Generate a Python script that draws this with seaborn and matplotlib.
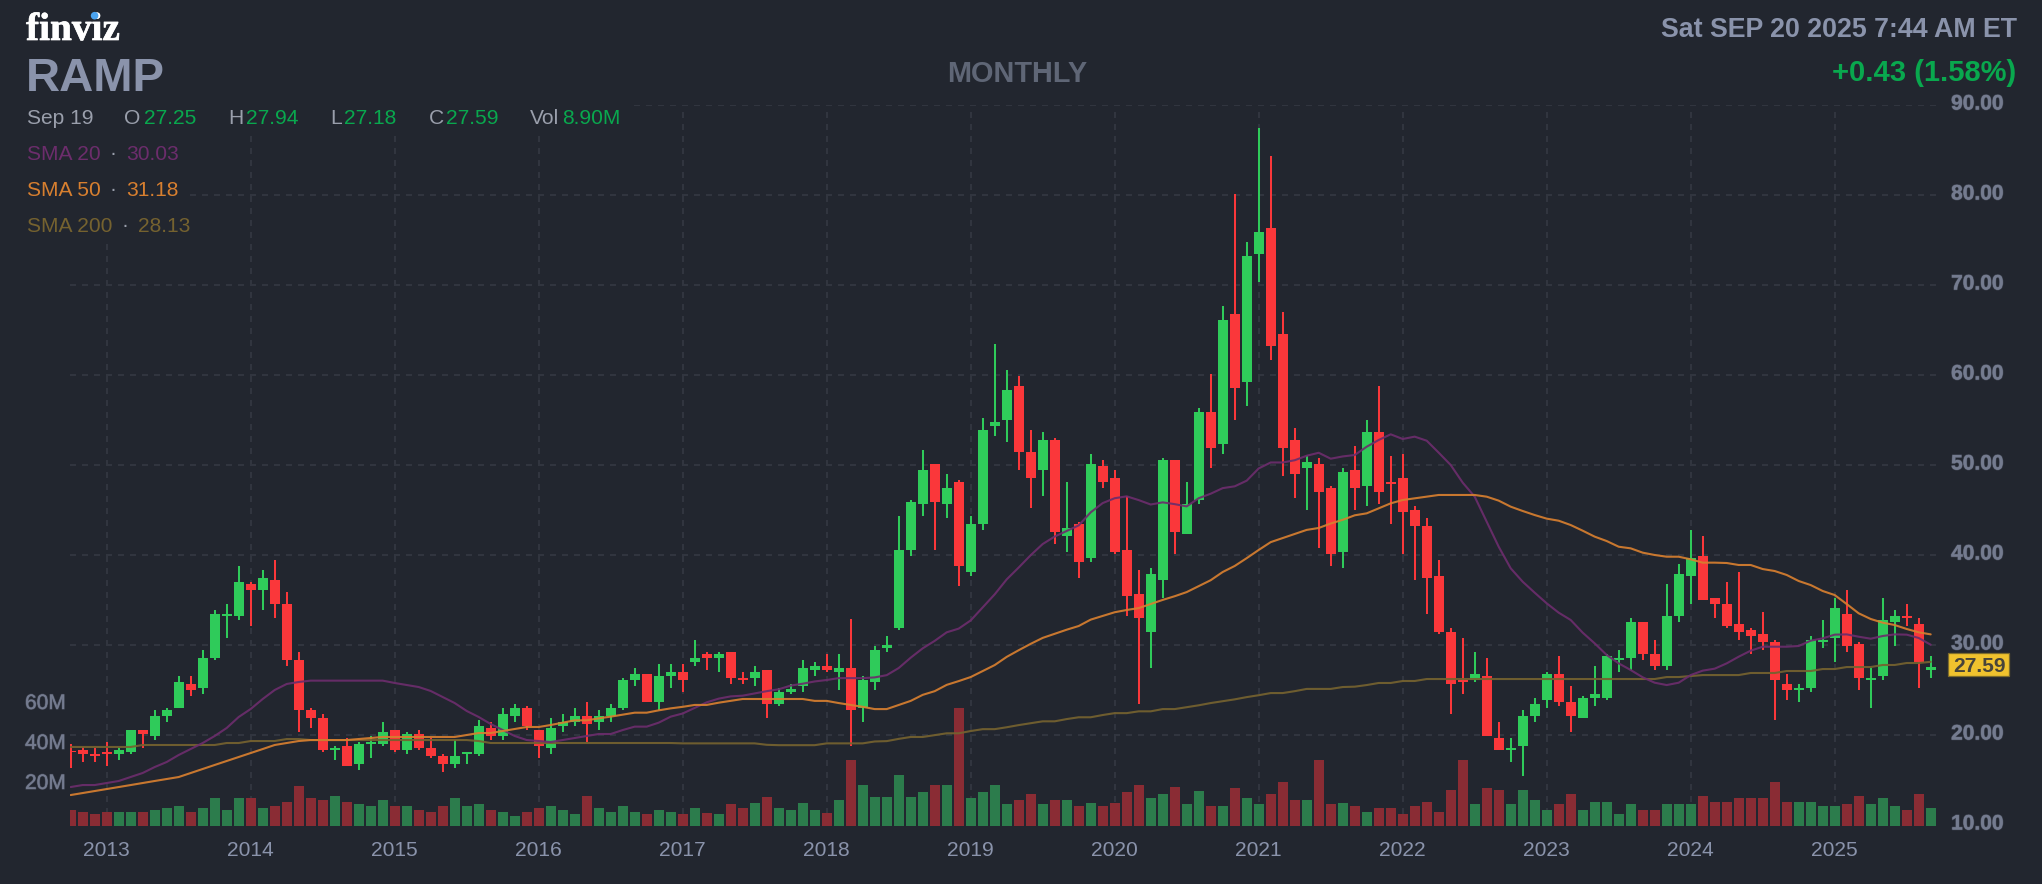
import matplotlib
matplotlib.use("Agg")
import matplotlib.pyplot as plt
import matplotlib.patches as mpatches
import matplotlib.patheffects as pe
from matplotlib.transforms import ScaledTranslation
import numpy as np
import pandas as pd
import seaborn as sns

# monthly candles, Oct 2012 to Sep 2025
opens = [
    18.26, 18.33, 17.85, 18.11, 17.89, 18.11, 20.55, 19.89, 22.11, 23.0,
    25.67, 25.22, 28.55, 33.22, 33.22, 36.78, 36.11, 37.22, 34.55, 28.33,
    22.78, 21.89, 18.33, 18.78, 16.78, 19.0, 19.0, 20.55, 18.33, 20.11,
    18.55, 17.67, 16.78, 17.89, 17.89, 20.78, 19.89, 22.11, 23.0, 20.55,
    18.55, 21.0, 21.44, 22.11, 21.44, 22.11, 23.0, 26.11, 26.78, 23.67,
    26.55, 26.98, 28.14, 28.97, 28.55, 29.22, 26.32, 26.32, 27.23, 23.42,
    24.79, 25.45, 27.23, 27.64, 26.98, 27.44, 22.97, 25.86, 29.67, 31.87,
    40.56, 45.69, 50.12, 45.69, 48.09, 38.11, 43.45, 54.34, 55.0, 58.77,
    51.44, 49.46, 52.77, 42.09, 43.45, 39.65, 49.87, 48.55, 40.56, 35.67,
    31.45, 37.2, 50.53, 42.34, 46.1, 55.87, 52.33, 66.78, 59.22, 73.44,
    76.33, 64.56, 52.78, 49.67, 50.11, 47.43, 40.31, 49.46, 47.67, 53.67,
    48.11, 48.55, 45.0, 43.22, 37.67, 31.44, 26.11, 26.11, 26.55, 19.67,
    18.33, 18.78, 22.11, 23.89, 26.78, 23.67, 21.89, 24.11, 24.11, 28.33,
    28.55, 32.55, 29.0, 27.67, 33.22, 37.67, 39.89, 35.22, 34.55, 32.33,
    31.67, 31.22, 30.33, 25.67, 25.0, 25.22, 30.33, 30.78, 33.44, 30.11,
    26.11, 26.55, 32.55, 33.22, 32.33, 27.25,
]
closes = [
    18.11, 17.89, 17.67, 17.89, 18.33, 20.55, 20.11, 22.11, 22.78, 25.89,
    25.0, 28.55, 33.44, 33.44, 37.0, 36.11, 37.44, 34.55, 28.33, 22.78,
    21.89, 18.33, 18.55, 16.55, 19.0, 19.22, 20.33, 18.33, 20.11, 18.55,
    17.67, 16.78, 17.67, 18.11, 21.0, 19.89, 22.33, 23.0, 21.0, 18.78,
    20.78, 21.44, 22.11, 21.22, 22.11, 23.0, 26.11, 26.78, 23.67, 26.55,
    27.0, 26.15, 28.55, 28.55, 28.97, 26.32, 26.15, 26.98, 23.42, 24.79,
    25.16, 27.44, 27.64, 27.23, 27.44, 22.76, 26.11, 29.42, 30.04, 40.56,
    45.9, 49.46, 45.9, 47.43, 38.78, 43.45, 53.88, 54.75, 58.31, 51.44,
    48.55, 52.77, 42.54, 43.0, 39.23, 50.12, 48.09, 40.31, 35.42, 32.98,
    37.87, 50.53, 42.54, 45.65, 55.87, 51.9, 66.11, 58.56, 73.22, 75.89,
    63.22, 51.89, 49.0, 50.33, 46.97, 40.1, 49.21, 47.43, 53.67, 47.0,
    47.89, 44.78, 43.22, 37.44, 31.44, 25.67, 25.89, 26.78, 19.89, 18.33,
    18.55, 22.11, 23.44, 26.78, 23.67, 22.11, 24.11, 24.55, 28.78, 28.55,
    32.55, 29.0, 27.67, 33.22, 37.89, 39.67, 35.0, 34.55, 32.11, 31.44,
    31.0, 30.33, 26.11, 25.0, 25.22, 30.55, 30.55, 34.11, 29.89, 26.33,
    26.33, 32.78, 33.22, 33.0, 28.11, 27.59,
]
highs = [
    19.0, 18.63, 18.59, 19.22, 18.59, 20.6, 20.6, 22.78, 23.0, 26.55,
    26.55, 29.44, 33.89, 34.55, 38.78, 37.0, 38.33, 39.44, 35.89, 29.22,
    23.0, 22.33, 18.78, 19.67, 19.22, 19.89, 21.44, 20.6, 20.33, 20.55,
    19.67, 17.89, 19.44, 18.11, 21.67, 21.44, 23.0, 23.44, 23.22, 20.55,
    21.89, 22.33, 23.0, 23.67, 22.78, 23.44, 26.33, 27.44, 26.78, 27.89,
    27.89, 27.85, 30.54, 29.22, 29.22, 29.22, 26.98, 27.64, 27.23, 25.2,
    25.66, 28.31, 28.1, 28.97, 28.97, 32.94, 26.53, 29.84, 31.0, 44.32,
    46.1, 51.65, 50.12, 49.0, 48.3, 44.32, 55.21, 63.45, 60.55, 59.89,
    53.88, 53.68, 53.02, 48.09, 43.66, 51.24, 50.53, 49.46, 46.56, 38.32,
    38.53, 50.78, 50.53, 48.09, 56.33, 60.09, 67.67, 80.11, 74.78, 87.44,
    84.33, 67.0, 54.11, 51.0, 50.78, 47.68, 49.66, 52.1, 55.0, 58.78,
    51.0, 51.22, 45.44, 44.11, 39.44, 31.89, 30.78, 29.22, 28.55, 21.44,
    19.67, 22.78, 24.11, 27.0, 28.78, 25.44, 24.33, 27.67, 29.0, 29.44,
    33.0, 32.55, 30.55, 36.78, 39.0, 42.78, 42.11, 35.22, 37.0, 38.11,
    31.89, 33.67, 30.55, 26.78, 25.67, 31.0, 32.78, 35.22, 36.11, 30.33,
    27.44, 35.22, 33.89, 34.55, 33.0, 28.78,
]
lows = [
    16.37, 17.0, 17.0, 16.55, 17.22, 17.89, 18.55, 19.44, 21.44, 23.0,
    24.33, 24.55, 28.33, 30.78, 32.78, 32.11, 33.89, 33.0, 27.67, 20.33,
    20.78, 18.11, 17.22, 16.55, 16.11, 17.44, 18.78, 18.11, 17.89, 18.33,
    17.44, 15.89, 16.33, 16.78, 17.67, 19.44, 19.44, 21.44, 20.55, 17.44,
    17.89, 20.33, 21.0, 19.22, 20.55, 21.44, 22.78, 25.44, 23.67, 22.78,
    25.22, 24.79, 27.64, 27.23, 26.98, 25.7, 25.7, 25.49, 21.93, 23.21,
    24.54, 24.79, 26.53, 26.98, 25.0, 18.83, 21.43, 25.0, 29.22, 31.66,
    39.9, 44.32, 40.56, 44.12, 36.54, 37.66, 42.79, 53.22, 52.56, 49.46,
    45.23, 46.56, 41.22, 40.31, 37.45, 39.23, 47.43, 40.1, 33.23, 23.42,
    27.44, 35.22, 40.1, 42.34, 45.65, 49.66, 51.22, 55.0, 56.56, 70.33,
    61.67, 48.78, 46.33, 44.99, 40.76, 38.78, 38.57, 44.99, 45.44, 45.67,
    43.44, 40.11, 37.22, 33.44, 31.22, 22.33, 24.55, 25.89, 19.89, 18.33,
    17.0, 15.44, 21.44, 23.0, 23.22, 20.33, 21.89, 23.22, 23.89, 27.0,
    27.22, 28.33, 27.22, 27.22, 32.55, 34.55, 35.0, 33.0, 31.89, 30.55,
    29.0, 29.44, 21.67, 23.89, 23.67, 24.78, 29.67, 28.11, 29.22, 25.0,
    23.0, 26.11, 29.89, 32.11, 25.22, 26.33,
]
volumes = [
    8, 7, 6, 7, 7, 7, 7, 8, 9, 10,
    7, 9, 14, 8, 14, 14, 9, 10, 12, 20,
    14, 13, 15, 12, 11, 10, 13, 10, 10, 8,
    7, 10, 14, 10, 11, 8, 7, 5, 7, 9,
    10, 8, 6, 15, 9, 7, 10, 7, 6, 8,
    7, 5.8, 8.8, 6.7, 5.8, 10.8, 8.8, 11.7, 14.7, 8.8,
    7.8, 11.7, 7.8, 6.7, 12.8, 32.8, 20.7, 14.7, 14.7, 25.7,
    14.7, 16.8, 20.7, 20.7, 58.8, 13.8, 16.8, 20.7, 10.8, 12.8,
    15.8, 10.8, 12.8, 12.8, 9.9, 11.7, 9.9, 11.7, 16.8, 20.7,
    13.8, 15.8, 19.7, 10.8, 17.7, 9.9, 9.9, 18.8, 13.8, 10.8,
    15.8, 21.8, 12.8, 12.8, 32.8, 10.8, 11.7, 9.9, 7, 9,
    9, 6, 10, 12, 7, 18, 33, 11, 19, 18,
    11, 18, 13, 8, 11, 16, 8, 12, 12, 6,
    11, 8, 8, 11, 11, 11, 15, 12, 12, 14,
    14, 14, 22, 12, 12, 12, 10, 10, 11, 15,
    11, 14, 10, 8, 16, 8.9,
]
sma20 = [
    14.22, 14.44, 14.44, 14.67, 14.89, 15.33, 15.78, 16.44, 17.0, 17.78,
    18.44, 19.11, 19.89, 20.78, 22.0, 22.89, 24.0, 25.0, 25.67, 25.89,
    26.04, 26.04, 26.04, 26.04, 26.04, 26.04, 26.04, 25.78, 25.56, 25.33,
    24.89, 24.22, 23.55, 22.67, 22.0, 21.22, 20.55, 19.89, 19.44, 19.33,
    19.22, 19.44, 19.67, 19.89, 20.11, 20.11, 20.55, 20.93, 20.93, 21.37,
    22.04, 22.39, 23.01, 23.63, 24.04, 24.29, 24.37, 24.62, 24.87, 25.08,
    25.49, 25.70, 25.95, 26.11, 26.32, 26.32, 26.32, 26.40, 26.65, 27.44,
    28.59, 29.63, 30.46, 31.41, 31.82, 32.73, 34.18, 35.63, 37.29, 38.61,
    39.98, 41.22, 42.05, 42.67, 43.29, 44.74, 45.77, 46.31, 46.52, 46.10,
    45.61, 45.85, 45.65, 45.40, 46.31, 46.81, 47.43, 47.63, 48.26, 49.62,
    50.28, 50.28, 50.53, 51.03, 51.36, 50.70, 50.95, 51.11, 52.03, 52.78,
    53.41, 52.89, 53.15, 52.7, 51.37, 50.0, 48.04, 46.48, 43.7, 40.92,
    38.52, 37.03, 35.81, 34.63, 33.59, 32.78, 31.37, 30.18, 28.89, 27.96,
    27.22, 26.41, 25.81, 25.55, 25.81, 26.66, 27.15, 27.37, 27.96, 28.70,
    29.37, 29.81, 29.81, 29.81, 29.89, 30.48, 30.74, 31.15, 31.18, 30.92,
    30.70, 31.0, 31.18, 31.15, 30.78, 30.03,
]
sma50 = [
    13.33, 13.55, 13.78, 14.0, 14.22, 14.44, 14.67, 14.89, 15.11, 15.33,
    15.78, 16.22, 16.67, 17.11, 17.55, 18.0, 18.44, 18.89, 19.11, 19.33,
    19.44, 19.44, 19.44, 19.44, 19.55, 19.67, 19.78, 19.78, 19.78, 19.78,
    19.78, 19.78, 19.78, 20.0, 20.22, 20.22, 20.44, 20.67, 20.89, 20.89,
    21.11, 21.37, 21.63, 21.63, 21.85, 22.04, 22.26, 22.48, 22.48, 22.74,
    22.96, 23.13, 23.34, 23.34, 23.59, 23.79, 24.0, 24.0, 24.0, 24.0,
    24.0, 24.0, 23.79, 23.79, 23.55, 23.34, 23.13, 22.88, 22.88, 23.34,
    23.79, 24.46, 24.87, 25.57, 25.99, 26.44, 27.1, 27.77, 28.68, 29.42,
    30.13, 30.79, 31.24, 31.70, 32.11, 32.82, 33.23, 33.64, 33.89, 34.1,
    34.56, 35.01, 35.42, 35.88, 36.54, 37.2, 38.11, 38.78, 39.65, 40.56,
    41.43, 41.88, 42.34, 42.79, 43.0, 43.5, 43.91, 44.41, 44.63, 45.18,
    45.74, 46.11, 46.3, 46.48, 46.67, 46.67, 46.67, 46.67, 46.48, 46.04,
    45.37, 44.89, 44.44, 44.04, 43.81, 43.33, 42.7, 42.04, 41.55, 40.92,
    40.74, 40.26, 40.0, 39.81, 39.81, 39.52, 39.15, 39.15, 39.11, 38.89,
    38.89, 38.44, 38.22, 37.78, 37.11, 36.66, 36.0, 35.55, 34.55, 33.52,
    32.89, 32.48, 32.22, 31.78, 31.41, 31.18,
]
sma200 = [
    18.67, 18.67, 18.67, 18.67, 18.67, 18.67, 18.89, 18.89, 18.89, 18.89,
    18.89, 18.89, 18.89, 19.11, 19.11, 19.33, 19.33, 19.33, 19.55, 19.55,
    19.44, 19.44, 19.44, 19.44, 19.44, 19.44, 19.44, 19.44, 19.44, 19.44,
    19.44, 19.44, 19.44, 19.44, 19.33, 19.11, 19.11, 19.11, 19.11, 19.11,
    19.11, 19.11, 19.11, 19.11, 19.11, 19.11, 19.11, 19.11, 19.11, 19.11,
    19.11, 19.07, 19.07, 19.07, 19.07, 19.07, 19.07, 19.07, 18.91, 18.87,
    18.87, 18.87, 18.87, 19.07, 19.07, 19.07, 19.07, 19.28, 19.32, 19.57,
    19.78, 19.78, 19.99, 20.19, 20.19, 20.44, 20.65, 20.65, 20.86, 21.1,
    21.31, 21.52, 21.52, 21.77, 21.97, 21.97, 22.22, 22.43, 22.43, 22.63,
    22.63, 22.88, 22.88, 23.09, 23.3, 23.55, 23.75, 23.96, 24.21, 24.42,
    24.66, 24.66, 24.87, 25.12, 25.12, 25.12, 25.33, 25.37, 25.55, 25.78,
    25.78, 26.0, 26.0, 26.22, 26.22, 26.22, 26.22, 26.22, 26.22, 26.22,
    26.22, 26.22, 26.22, 26.22, 26.22, 26.22, 26.22, 26.22, 26.22, 26.22,
    26.22, 26.22, 26.22, 26.44, 26.44, 26.55, 26.66, 26.66, 26.66, 26.66,
    26.89, 26.89, 26.89, 27.11, 27.11, 27.11, 27.33, 27.33, 27.55, 27.55,
    27.55, 27.78, 27.78, 28.0, 28.0, 28.13,
]
year_labels = ["2013", "2014", "2015", "2016", "2017", "2018", "2019",
               "2020", "2021", "2022", "2023", "2024", "2025"]
price_ticks = [10, 20, 30, 40, 50, 60, 70, 80, 90]

BG = "#22262f"
GRID = "#31353f"
UP = "#2fcb5a"
DOWN = "#fa373a"
VOL_UP = "#2c7c4c"
VOL_DOWN = "#8a2c34"
MUTED = "#8a93ab"
AXIS_TEXT = "#747b8f"
GREEN_TEXT = "#09a84e"
GRAY_TEXT = "#9a9fac"
PURPLE = "#6c2d6c"
ORANGE = "#d77f2f"
OLIVE = "#75622f"

W, H = 2042, 884
LEFT, RIGHT, TOP, BOTTOM = 70, 1938, 105, 826

sns.set_theme(style="dark")
plt.rcParams["font.family"] = ["Liberation Sans", "DejaVu Sans"]

df = pd.DataFrame({
    "month": np.arange(len(opens)),
    "open": opens, "high": highs, "low": lows, "close": closes,
    "volume": volumes, "sma20": sma20, "sma50": sma50, "sma200": sma200,
})
df["dir"] = np.where(df["close"] >= df["open"], "up", "down")

fig = plt.figure(figsize=(W / 100, H / 100), dpi=100, facecolor=BG)
rect = [LEFT / W, 1 - BOTTOM / H, (RIGHT - LEFT) / W, (BOTTOM - TOP) / H]
xlim = ((LEFT - 70.7) / 12, (RIGHT - 70.7) / 12)
ylim = (90 - (BOTTOM - TOP) / 9, 90)
soft = [pe.withStroke(linewidth=1.0, foreground=AXIS_TEXT + "66")]

# grid and tick labels at the bottom, then volume, then candles on top
ax = fig.add_axes(rect, facecolor=BG)
ax.set_xlim(xlim)
ax.set_ylim(ylim)
ax.set_xticks(np.arange(len(year_labels)) * 12 + 3, year_labels)
ax.set_yticks(price_ticks, [f"{p:.2f}" for p in price_ticks])
ax.yaxis.tick_right()
ax.grid(True, color=GRID, linewidth=1.44, linestyle=(0, (3, 3)))
ax.yaxis.get_gridlines()[0].set_visible(False)
ax.tick_params(axis="x", length=0, pad=10.5, labelsize=15.1, labelcolor=MUTED)
ax.tick_params(axis="y", length=0, pad=9.4, labelsize=15.1, labelcolor=AXIS_TEXT)
for label in ax.get_yticklabels():
    label.set_fontweight("bold")
    label.set_path_effects(soft)
    label.set_transform(label.get_transform() + ScaledTranslation(0, 3 / 100, fig.dpi_scale_trans))
for spine in ax.spines.values():
    spine.set_visible(False)

ax_vol = fig.add_axes(rect, facecolor="none")
sns.barplot(data=df, x="month", y="volume", hue="dir", dodge=False, native_scale=True,
            palette={"up": VOL_UP, "down": VOL_DOWN}, width=10 / 12, saturation=1,
            errorbar=None, legend=False, linewidth=0, edgecolor="none", ax=ax_vol)
ax_vol.set_xlim(xlim)
ax_vol.set_ylim(0, (BOTTOM - TOP) / 2)
ax_vol.axis("off")

ax_top = fig.add_axes(rect, facecolor="none")
for direction, color in (("up", UP), ("down", DOWN)):
    part = df[df["dir"] == direction]
    ax_top.vlines(part["month"], part["low"], part["high"], color=color, linewidth=1.45, zorder=2)
    ax_top.bar(part["month"], (part["close"] - part["open"]).abs(),
               bottom=part[["open", "close"]].min(axis=1), width=10 / 12,
               color=color, linewidth=0, zorder=2)
for column, color in (("sma200", OLIVE), ("sma20", PURPLE), ("sma50", ORANGE)):
    sns.lineplot(data=df, x="month", y=column, color=color, linewidth=1.5, alpha=0.92,
                 errorbar=None, ax=ax_top, zorder=3)
ax_top.set_xlim(xlim)
ax_top.set_ylim(ylim)
ax_top.axis("off")

# pixel-space overlay for the header, legend and price tag
ov = fig.add_axes([0, 0, 1, 1], facecolor="none")
ov.set_xlim(0, W)
ov.set_ylim(H, 0)
ov.axis("off")
ov.add_patch(mpatches.Rectangle((0, 98), 634, 33, color=BG, linewidth=0))
ov.add_patch(mpatches.Rectangle((0, 131), 190, 109, color=BG, linewidth=0))

ov.text(26, 40, "finviz", family="Liberation Serif", fontweight="bold", fontsize=28.3, color="white",
        path_effects=[pe.withStroke(linewidth=0.5, foreground="white")])
ov.add_patch(mpatches.Circle((94.6, 15.7), 3.8, color="#4aa3f0", linewidth=0, zorder=5))
ov.text(26, 91, "RAMP", fontweight="bold", fontsize=34, color=MUTED)
ov.text(1017, 82, "MONTHLY", ha="center", fontweight="bold", fontsize=20.8, color="#5f6676")
ov.text(2017, 37, "Sat SEP 20 2025 7:44 AM ET", ha="right", fontweight="bold", fontsize=19.3, color=MUTED)
ov.text(2016, 81, "+0.43 (1.58%)", ha="right", fontweight="bold", fontsize=21, color=GREEN_TEXT)

ov.text(27, 124, "Sep 19", fontsize=15.1, color=GRAY_TEXT)
for x_label, label, x_value, value in [(124, "O", 144, "27.25"), (228.5, "H", 246, "27.94"),
                                       (330, "L", 344, "27.18"), (428.5, "C", 446, "27.59"),
                                       (530, "Vol", 562, "8.90M")]:
    ov.text(x_label, 124, label, fontsize=15.1, color=GRAY_TEXT)
    ov.text(x_value, 124, value, fontsize=15.1, color=GREEN_TEXT)

for y_text, name, value, color, x_dot, x_value in [(160, "SMA 20", "30.03", PURPLE, 113, 126),
                                                   (196, "SMA 50", "31.18", ORANGE, 113, 126),
                                                   (232, "SMA 200", "28.13", OLIVE, 125, 138)]:
    ov.text(27, y_text, name, fontsize=15.1, color=color)
    ov.text(x_dot, y_text - 1, "·", fontsize=15.1, color=GRAY_TEXT, ha="center")
    ov.text(x_value, y_text, value, fontsize=15.1, color=color)

for y_text, label in [(709, "60M"), (749, "40M"), (789, "20M")]:
    ov.text(25, y_text, label, fontsize=15.1, color=AXIS_TEXT, path_effects=soft)

ov.add_patch(mpatches.Rectangle((1947.5, 652.5), 61, 23.5, facecolor="#f0c22e", edgecolor="#7d6c2c",
                                linewidth=0.9))
ov.text(1979.5, 672, "27.59", ha="center", fontweight="bold", fontsize=15.1, color="#47443a")

fig.savefig("out.png", dpi=100, facecolor=BG)
